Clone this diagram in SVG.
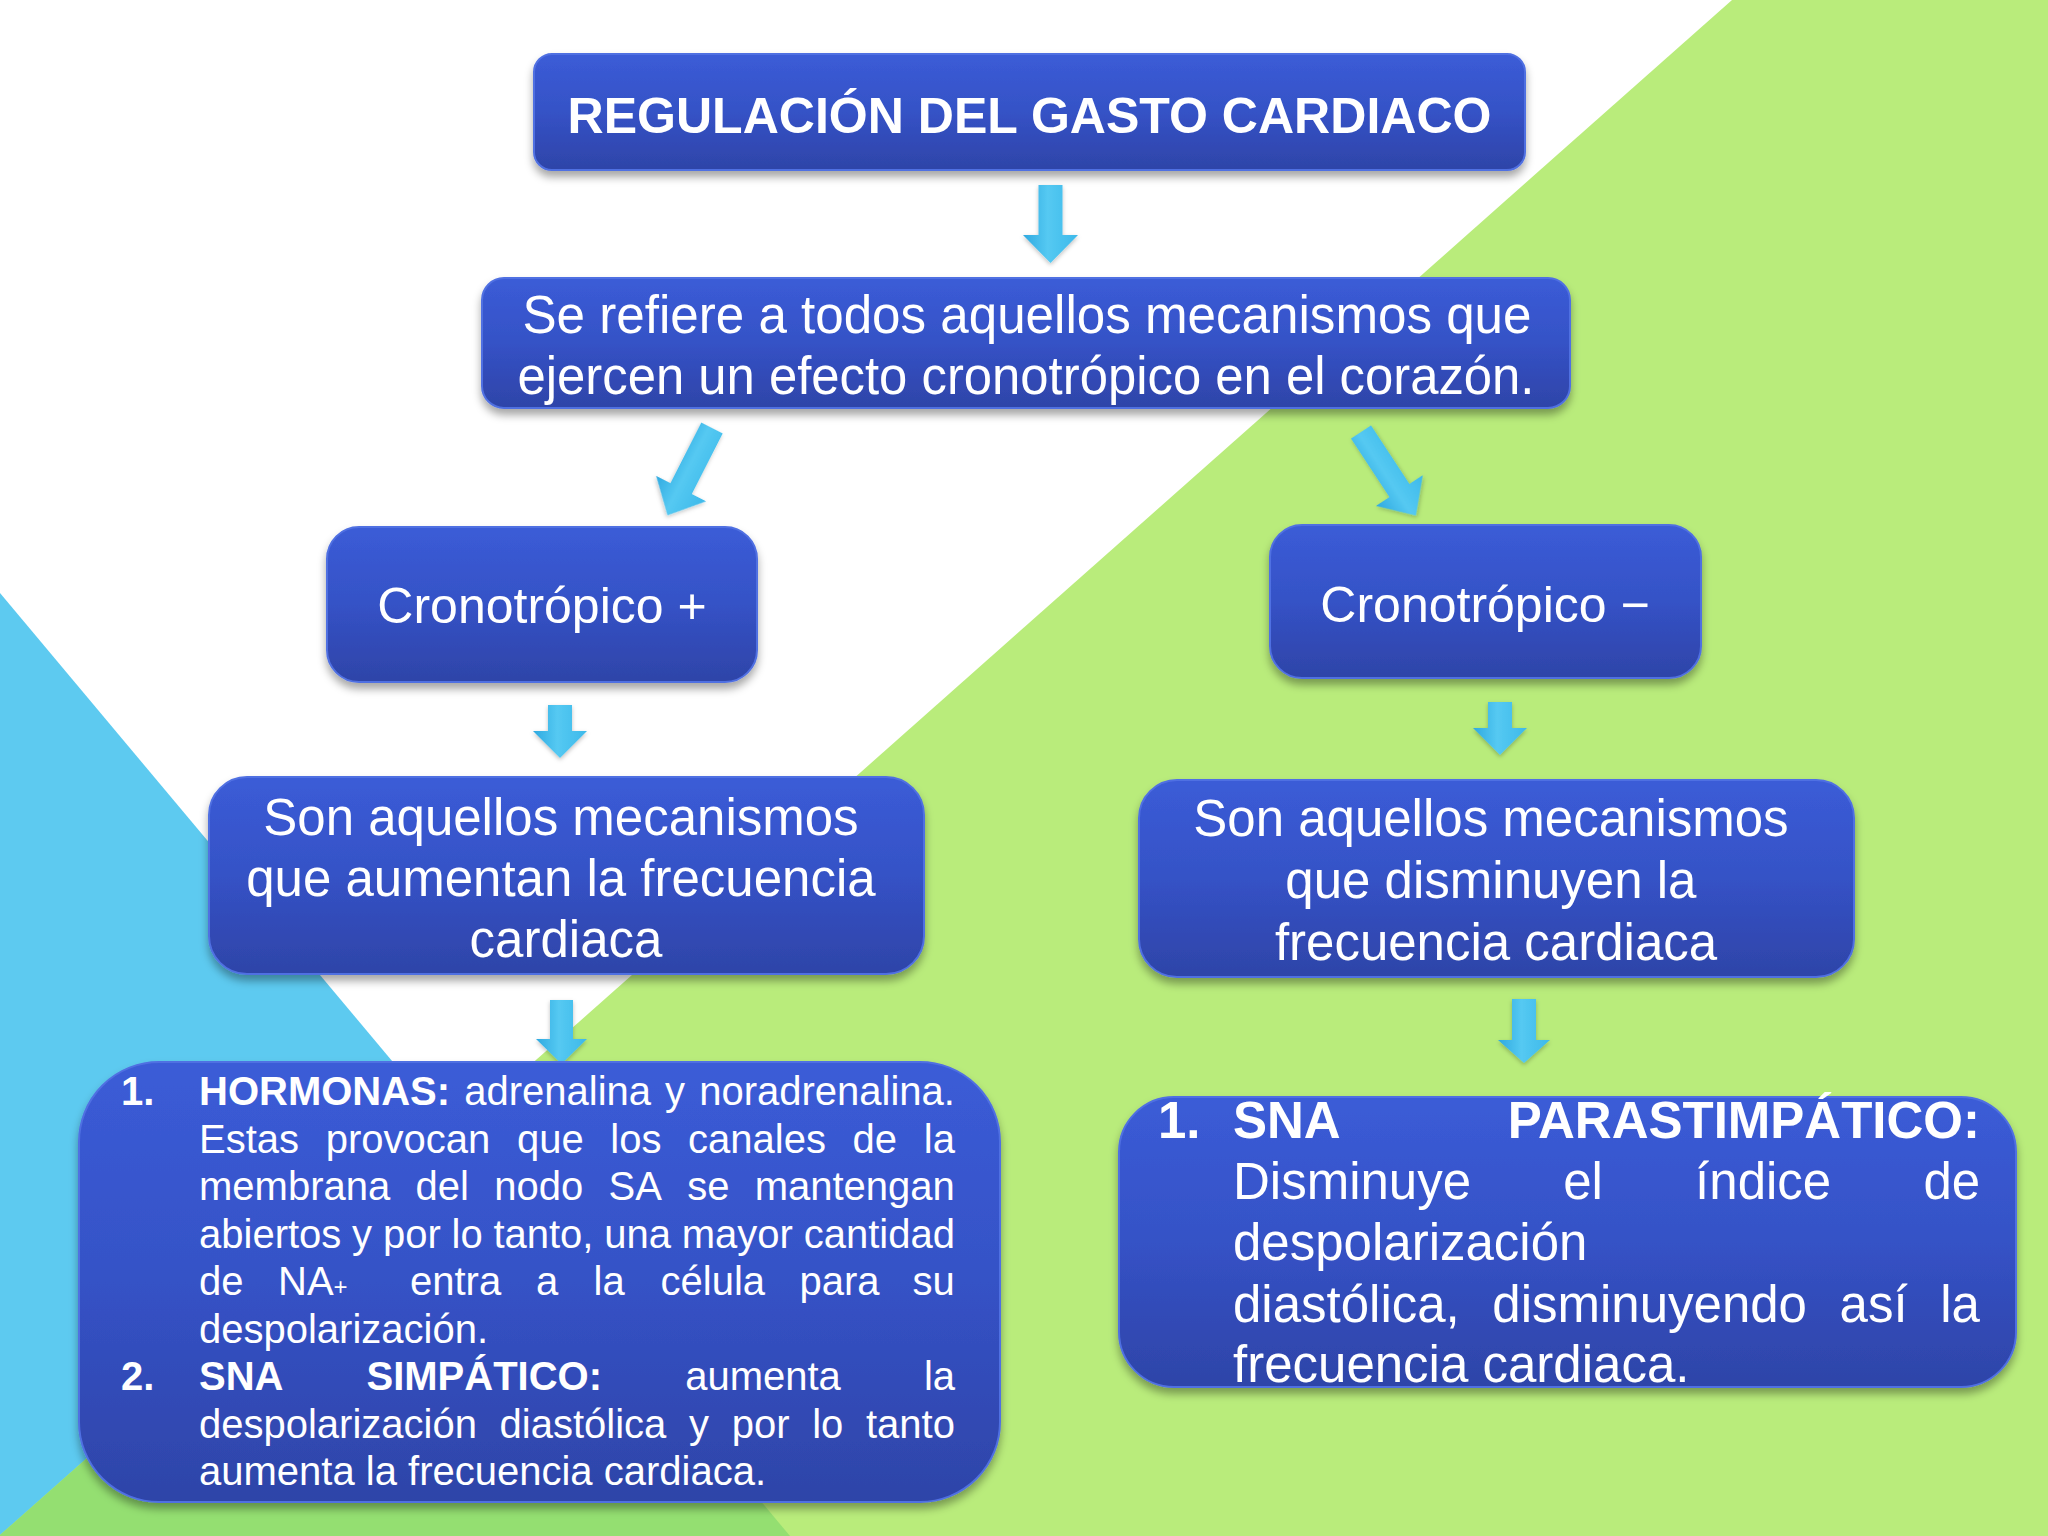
<svg xmlns="http://www.w3.org/2000/svg" width="2048" height="1536" viewBox="0 0 2048 1536">
  <defs>
    <linearGradient id="boxGrad" x1="0" y1="0" x2="0" y2="1">
      <stop offset="0" stop-color="#3B5CD7"/>
      <stop offset="0.5" stop-color="#3552C6"/>
      <stop offset="1" stop-color="#2E44A8"/>
    </linearGradient>
    <linearGradient id="arrGrad" x1="0" y1="0" x2="1" y2="0">
      <stop offset="0" stop-color="#2FA9E0"/>
      <stop offset="0.45" stop-color="#55C9F2"/>
      <stop offset="1" stop-color="#3DB9EA"/>
    </linearGradient>
    <filter id="shadow" x="-10%" y="-10%" width="120%" height="130%">
      <feDropShadow dx="0" dy="6" stdDeviation="4" flood-color="#000" flood-opacity="0.35"/>
    </filter>
    <filter id="ashadow" x="-30%" y="-30%" width="160%" height="160%">
      <feDropShadow dx="0" dy="2" stdDeviation="2" flood-color="#000" flood-opacity="0.25"/>
    </filter>
    <style>
      .box { fill: url(#boxGrad); stroke: #5070E2; stroke-width: 2; filter: url(#shadow); }
      .arr { fill: url(#arrGrad); filter: url(#ashadow); }
      .t { font-family: "Liberation Sans", Arial, sans-serif; fill: #FFFFFF; }
      .b { font-weight: bold; }
      .c { text-anchor: middle; }
    </style>
  </defs>

  <!-- background -->
  <rect x="0" y="0" width="2048" height="1536" fill="#FFFFFF"/>
  <polygon points="0,593 790,1536 0,1536" fill="#5DCAF0"/>
  <polygon points="1732,0 2048,0 2048,1536 -1,1536" fill="#B9EC7B"/>
  <polygon points="453,1134 790,1536 -1,1536" fill="#94DF71"/>

  <!-- connectors -->
  <g id="connectors">
    <polygon class="arr" points="1038.5,185 1062.5,185 1062.5,235 1078,235 1050.5,263 1023,235 1038.5,235"/>
    <polygon class="arr" transform="translate(712,428) rotate(27)" points="-12,0 12,0 12,68 28,68 0,98 -28,68 -12,68"/>
    <polygon class="arr" transform="translate(1361,432) rotate(-33.3)" points="-12,0 12,0 12,70 28,70 0,100 -28,70 -12,70"/>
    <polygon class="arr" points="548,705 572,705 572,731 587,731 560,758 533,731 548,731"/>
    <polygon class="arr" points="1488,702 1512,702 1512,728 1527,728 1500,755 1473,728 1488,728"/>
    <polygon class="arr" points="550,1000 573,1000 573,1039 587,1039 561.5,1064 536,1039 550,1039"/>
    <polygon class="arr" points="1512,999 1536,999 1536,1040 1550,1040 1524,1063 1498,1040 1512,1040"/>
  </g>

  <!-- node 1 -->
  <g id="n1">
    <rect class="box" x="534" y="54" width="991" height="116" rx="18"/>
    <text class="t b c" x="1029.5" y="133" font-size="50" textLength="924" lengthAdjust="spacingAndGlyphs">REGULACIÓN DEL GASTO CARDIACO</text>
  </g>

  <!-- node 2 -->
  <g id="n2">
    <rect class="box" x="482" y="278" width="1088" height="130" rx="22"/>
    <text class="t c" x="1027" y="333" font-size="54" textLength="1009" lengthAdjust="spacingAndGlyphs">Se refiere a todos aquellos mecanismos que</text>
    <text class="t c" x="1026" y="394" font-size="54" textLength="1017" lengthAdjust="spacingAndGlyphs">ejercen un efecto cronotrópico en el corazón.</text>
  </g>

  <!-- node 3 -->
  <g id="n3">
    <rect class="box" x="327" y="527" width="430" height="155" rx="32"/>
    <text class="t c" x="542" y="623" font-size="50">Cronotrópico +</text>
  </g>

  <!-- node 4 -->
  <g id="n4">
    <rect class="box" x="1270" y="525" width="431" height="153" rx="32"/>
    <text class="t c" x="1485" y="622" font-size="50">Cronotrópico −</text>
  </g>

  <!-- node 5 -->
  <g id="n5">
    <rect class="box" x="209" y="777" width="715" height="197" rx="38"/>
    <text class="t c" font-size="51">
      <tspan x="568" y="835">Son aquellos mecanismos</tspan>
      <tspan x="568" y="896">que aumentan la frecuencia</tspan>
      <tspan x="566" y="957">cardiaca</tspan>
    </text>
  </g>

  <!-- node 6 -->
  <g id="n6">
    <rect class="box" x="1139" y="780" width="715" height="197" rx="38"/>
    <text class="t c" font-size="51">
      <tspan x="1498" y="836">Son aquellos mecanismos</tspan>
      <tspan x="1498" y="898">que disminuyen la</tspan>
      <tspan x="1496" y="960">frecuencia cardiaca</tspan>
    </text>
  </g>

  <!-- node 7 -->
  <g id="n7">
    <rect class="box" x="79" y="1062" width="921" height="440" rx="80"/>
    <g class="t" font-size="40">
      <text y="1105"><tspan class="b" x="121">1.</tspan><tspan class="b" x="199">HORMONAS:</tspan><tspan x="464.2">adrenalina</tspan><tspan x="665.1">y</tspan><tspan x="699.2">noradrenalina.</tspan></text>
      <text y="1152.5"><tspan x="199">Estas</tspan><tspan x="325.7">provocan</tspan><tspan x="516.9">que</tspan><tspan x="610.3">los</tspan><tspan x="688.1">canales</tspan><tspan x="852.6">de</tspan><tspan x="923.8">la</tspan></text>
      <text y="1200"><tspan x="199">membrana</tspan><tspan x="415.5">del</tspan><tspan x="494.2">nodo</tspan><tspan x="608.5">SA</tspan><tspan x="687.2">se</tspan><tspan x="754.7">mantengan</tspan></text>
      <text y="1247.5"><tspan x="199">abiertos</tspan><tspan x="352.1">y</tspan><tspan x="382.9">por</tspan><tspan x="451.5">lo</tspan><tspan x="493.4">tanto,</tspan><tspan x="604.3">una</tspan><tspan x="681.8">mayor</tspan><tspan x="803.7">cantidad</tspan></text>
      <text y="1295"><tspan x="199">de</tspan><tspan x="278">NA</tspan><tspan x="333.6" font-size="24">+</tspan><tspan x="410">entra</tspan><tspan x="536">a</tspan><tspan x="593.5">la</tspan><tspan x="660.5">célula</tspan><tspan x="799.5">para</tspan><tspan x="912.6">su</tspan></text>
      <text y="1342.5" x="199">despolarización.</text>
      <text y="1390"><tspan class="b" x="121">2.</tspan><tspan class="b" x="199">SNA</tspan><tspan class="b" x="366.5">SIMPÁTICO:</tspan><tspan x="685.2">aumenta</tspan><tspan x="923.9">la</tspan></text>
      <text y="1437.5"><tspan x="199">despolarización</tspan><tspan x="499.6">diastólica</tspan><tspan x="689">y</tspan><tspan x="731.7">por</tspan><tspan x="812.2">lo</tspan><tspan x="866">tanto</tspan></text>
      <text y="1485" x="199">aumenta la frecuencia cardiaca.</text>
    </g>
  </g>

  <!-- node 8 -->
  <g id="n8">
    <rect class="box" x="1119" y="1097" width="897" height="290" rx="55"/>
    <g class="t" font-size="51">
      <text y="1138"><tspan class="b" x="1158">1.</tspan><tspan class="b" x="1233">SNA</tspan></text>
      <text y="1138" class="b" x="1980" text-anchor="end">PARASTIMPÁTICO:</text>
      <text y="1199"><tspan x="1233">Disminuye</tspan><tspan x="1563.2">el</tspan><tspan x="1695.1">índice</tspan><tspan x="1923.4">de</tspan></text>
      <text y="1260" x="1233">despolarización</text>
      <text y="1322"><tspan x="1233">diastólica,</tspan><tspan x="1492.3">disminuyendo</tspan><tspan x="1839.6">así</tspan><tspan x="1940.2">la</tspan></text>
      <text y="1382" x="1233">frecuencia cardiaca.</text>
    </g>
  </g>
</svg>
